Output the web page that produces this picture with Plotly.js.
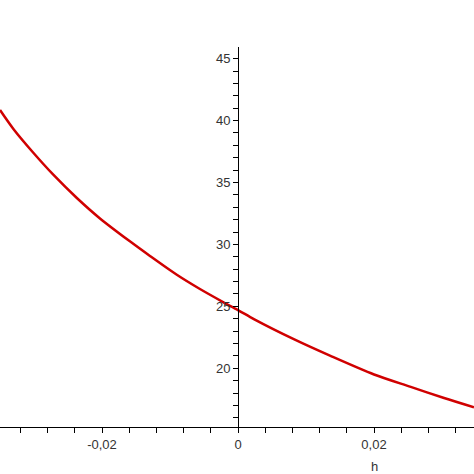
<!DOCTYPE html>
<html>
<head>
<meta charset="utf-8">
<script src="https://cdn.plot.ly/plotly-3.0.1.min.js"></script>
<style>
  html, body { margin: 0; padding: 0; background: #fff; }
  #chart { width: 474px; height: 474px; }
</style>
</head>
<body>
<div id="chart"></div>
<script>
var hValues = [-0.035, -0.0330, -0.0301, -0.0272, -0.0237, -0.0203, -0.0159, -0.0129, -0.0090, -0.0056, -0.0022, 0, 0.0024, 0.0082, 0.0136, 0.020, 0.0254, 0.0303, 0.0347];
var fValues = [40.85, 39.3, 37.4, 35.65, 33.75, 32.1, 30.25, 29.05, 27.55, 26.4, 25.35, 24.7, 23.95, 22.35, 21.0, 19.5, 18.5, 17.6, 16.85];

var xTickVals = [-0.02, 0, 0.02];
var xTickText = ['-0,02', '0', '0,02'];
var yTickVals = [20, 25, 30, 35, 40, 45];
var yTickText = ['20', '25', '30', '35', '40', '45'];

var tickFont = {
  family: 'Liberation Sans, Arial, sans-serif',
  size: 13,
  color: '#333'
};

var data = [{
  x: hValues,
  y: fValues,
  type: 'scatter',
  mode: 'lines',
  line: {
    color: '#d00000',
    width: 2.5,
    shape: 'spline',
    smoothing: 0.8
  },
  hoverinfo: 'skip'
}];

var layout = {
  width: 474,
  height: 474,
  showlegend: false,
  paper_bgcolor: '#ffffff',
  plot_bgcolor: '#ffffff',
  margin: {
    l: 0,
    r: 0,
    t: 47,
    b: 47,
    pad: 0
  },
  xaxis: {
    range: [-0.035, 0.0347],
    showgrid: false,
    zeroline: false,
    showline: true,
    linecolor: '#000',
    linewidth: 1,
    ticks: 'outside',
    ticklen: 5,
    tickwidth: 1,
    tickcolor: '#000',
    tickmode: 'array',
    tickvals: xTickVals,
    ticktext: xTickText,
    tickfont: tickFont,
    minor: {
      tickmode: 'linear',
      tick0: 0,
      dtick: 0.004,
      ticks: 'outside',
      ticklen: 5,
      tickwidth: 1,
      tickcolor: '#000',
      showgrid: false
    }
  },
  yaxis: {
    range: [15.26, 45.94],
    anchor: 'free',
    position: 238 / 474,
    side: 'left',
    showgrid: false,
    zeroline: false,
    showline: true,
    linecolor: '#000',
    linewidth: 1,
    ticks: 'outside',
    ticklen: 5,
    tickwidth: 1,
    tickcolor: '#000',
    tickmode: 'array',
    tickvals: yTickVals,
    ticktext: yTickText,
    tickfont: tickFont,
    minor: {
      tickmode: 'linear',
      tick0: 0,
      dtick: 1,
      ticks: 'outside',
      ticklen: 5,
      tickwidth: 1,
      tickcolor: '#000',
      showgrid: false
    }
  },
  annotations: [
    {
      xref: 'x',
      yref: 'paper',
      x: 0.02,
      y: -0.08,
      xanchor: 'center',
      yanchor: 'top',
      text: 'h',
      showarrow: false,
      font: tickFont
    }
  ]
};

Plotly.newPlot('chart', data, layout, {staticPlot: true, displayModeBar: false});
</script>
</body>
</html>
